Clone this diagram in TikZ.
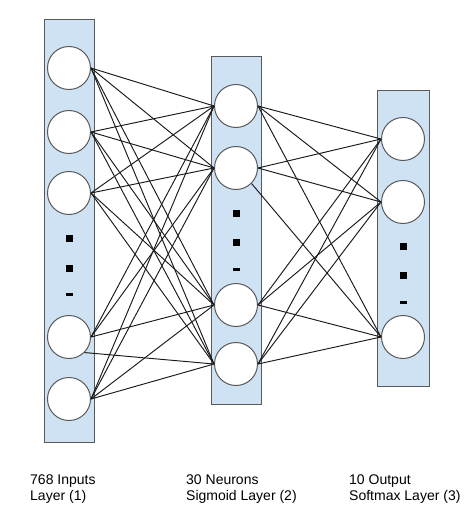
\documentclass[tikz,border=0pt]{standalone}
\usepackage{fontspec}
\setmainfont{Liberation Sans}
\definecolor{layerblue}{HTML}{CFE2F3}
\definecolor{edgegray}{HTML}{595959}
\definecolor{linegray}{HTML}{1A1A1A}
\begin{document}
\begin{tikzpicture}[x=1pt,y=-1pt,
  layer/.style={draw=edgegray, fill=layerblue, line width=1pt, inner sep=0},
  neuron/.style={circle, draw=edgegray, fill=white, minimum size=43pt, inner sep=0, line width=1pt},
  dotmark/.style={fill=black, minimum width=7pt, minimum height=7pt, inner sep=0},
  dashmark/.style={fill=black, minimum width=7pt, minimum height=3pt, inner sep=0},
  link/.style={draw=linegray, line width=0.95pt},
  caption/.style={anchor=north west, align=left, inner sep=0, font=\fontsize{14}{16}\selectfont}]
\useasboundingbox (0,0) rectangle (474,516);
% layers
\node[layer, minimum width=50pt, minimum height=422pt] (L1) at (69,231) {};
\node[layer, minimum width=50pt, minimum height=347pt] (L2) at (236,230.5) {};
\node[layer, minimum width=52pt, minimum height=295pt] (L3) at (403,238.5) {};
% input neurons
\node[neuron] (i1) at (69,68) {};
\node[neuron] (i2) at (69,132) {};
\node[neuron] (i3) at (69,193) {};
\node[neuron] (i4) at (69,337) {};
\node[neuron] (i5) at (69,399) {};
\node[dotmark] (id1) at (69,238) {};
\node[dotmark] (id2) at (69,268) {};
\node[dashmark] (id3) at (69,294) {};
% hidden neurons
\node[neuron] (h1) at (236,106) {};
\node[neuron] (h2) at (236,168) {};
\node[neuron] (h3) at (236,305) {};
\node[neuron] (h4) at (236,364) {};
\node[dotmark] (hd1) at (236,213) {};
\node[dotmark] (hd2) at (236,242) {};
\node[dashmark] (hd3) at (236,269) {};
% output neurons
\node[neuron] (o1) at (403,139) {};
\node[neuron] (o2) at (403,202) {};
\node[neuron] (o3) at (403,337) {};
\node[dotmark] (od1) at (403,246) {};
\node[dotmark] (od2) at (403,275) {};
\node[dashmark] (od3) at (403,302) {};
% connections input -> hidden
\foreach \i in {1,2,3,5}{
  \foreach \h in {1,2,3,4}{
    \draw[link] (i\i.east) -- (h\h.west);
  }
}
\foreach \h in {1,2,3}{
  \draw[link] (i4.east) -- (h\h.west);
}
\draw[link] (i4.-45) -- (h4.west);
% connections hidden -> output
\foreach \h in {1,3,4}{
  \foreach \o in {1,2,3}{
    \draw[link] (h\h.east) -- (o\o.west);
  }
}
\draw[link] (h2.east) -- (o1.west);
\draw[link] (h2.east) -- (o2.west);
\draw[link] (h2.-45) -- (o3.west);
% captions
\node[caption] (c1) at (30,475) {768 Inputs\\Layer (1)};
\node[caption] (c2) at (186,475) {30 Neurons\\Sigmoid Layer (2)};
\node[caption] (c3) at (349,475) {10 Output\\Softmax Layer (3)};
\end{tikzpicture}
\end{document}
